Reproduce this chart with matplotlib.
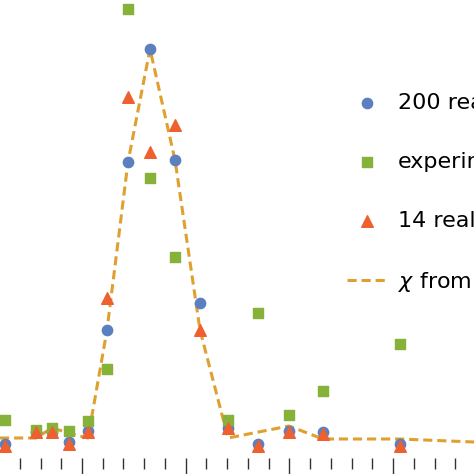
import matplotlib
matplotlib.use("Agg")
import matplotlib.pyplot as plt
import numpy as np

U = 20.74
# x positions (in minor tick units) and values (arbitrary units)
x_pts = np.array([5, 36, 52, 69, 88, 107, 128, 150, 175, 200, 228, 258, 289, 323, 400]) / U
blue = 458 - np.array([444, 432, 432, 442, 431, 330, 162, 49, 160, 303, 428, 444, 431, 432, 444])
green = 458 - np.array([420, 430, 428, 431, 421, 369, 9, 178, 257, 520, 420, 313, 415, 391, 344])
orange = 458 - np.array([446, 432, 432, 444, 432, 298, 97, 152, 125, 330, 428, 446, 432, 434, 446])
line_x = np.array([0, 36, 52, 80, 88, 107, 128, 150, 175, 200, 228, 289, 323, 400, 474]) / U
line_y = 458 - np.array([438, 438, 428, 436, 438, 330, 162, 49, 160, 330, 438, 426, 439, 439, 442])

fig = plt.figure(figsize=(4.74, 4.74), dpi=100)
ax = fig.add_axes([0, 16/474, 1, 458/474])
ax.plot(line_x, line_y, '--', color='#E0A030', lw=2.2, dashes=(3, 1.6), label=r'$\chi$ from theory', zorder=1)
ax.scatter(x_pts, blue, s=55, color='#5B7FBF', label='200 realizations', zorder=2)
ax.scatter(x_pts, green, s=55, marker='s', color='#86B23A', label='experiment', zorder=3)
ax.scatter(x_pts, orange, s=70, marker='^', color='#EE6030', label='14 realizations', zorder=4)
for s in ax.spines.values():
    s.set_visible(False)
ax.set_yticks([])
ax.set_xticks([82/U + 5*k for k in range(0, 4)])
ax.set_xticks([82/U + k for k in range(-3, 19)], minor=True)
ax.set_xticklabels([])
ax.set_xlim(0, 474/U)
ax.set_ylim(0, 458)
ax.tick_params(axis='x', which='major', length=12, width=1, color='#333333')
ax.tick_params(axis='x', which='minor', length=8, width=1, color='#333333')
h, l = ax.get_legend_handles_labels()
order = [1, 2, 3, 0]
leg = ax.legend([h[i] for i in order], [l[i] for i in order], loc='upper left',
                bbox_to_anchor=(0.69, 0.84), frameon=False, fontsize=16,
                labelspacing=1.75, handlelength=1.8, handletextpad=0.5)
plt.savefig('out.png', dpi=100)
